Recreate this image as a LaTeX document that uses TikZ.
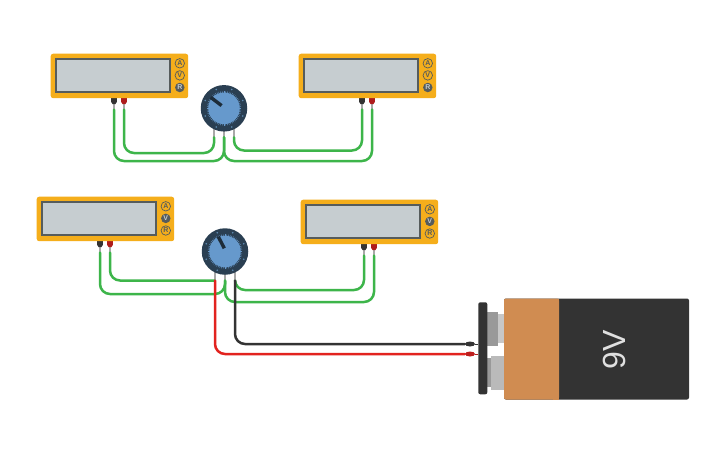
\documentclass[tikz,border=0pt]{standalone}
\usepackage{fontspec}
\setmainfont{Liberation Sans}
\usetikzlibrary{shapes.geometric}
\definecolor{morange}{HTML}{F5AE1B}
\definecolor{mscreen}{HTML}{C6CDD0}
\definecolor{mborder}{HTML}{565C5C}
\definecolor{potdark}{HTML}{2A3F52}
\definecolor{potblue}{HTML}{6699CC}
\definecolor{potdot}{HTML}{5F8DB5}
\definecolor{wgreen}{HTML}{3DB54A}
\definecolor{wred}{HTML}{E2231F}
\definecolor{wblack}{HTML}{333333}
\definecolor{pin}{HTML}{A8A8A8}
\definecolor{tipred}{HTML}{AE1C1C}
\definecolor{batorange}{HTML}{D08C51}
\definecolor{batdark}{HTML}{333333}
\tikzset{
  wire/.style={line width=2.5pt,rounded corners=10pt,line cap=round},
  gw/.style={wire,draw=wgreen},
  rw/.style={wire,draw=wred},
  kw/.style={wire,draw=wblack},
  lead/.style={line width=2.5pt,draw=pin},
  btnbase/.style={circle,inner sep=0pt,minimum size=9.5pt,font=\fontsize{7}{7}\selectfont\bfseries},
  btnon/.style={btnbase,fill=mborder,text=mscreen},
  btnoff/.style={btnbase,draw=mborder,line width=0.7pt,text=mborder},
  mbody/.style={fill=morange,rounded corners=2.5pt,inner sep=0pt,minimum width=137.5pt,minimum height=44.5pt,anchor=north west},
  mscr/.style={fill=mscreen,draw=mborder,line width=1.5pt,inner sep=0pt,minimum width=114pt,minimum height=33pt,anchor=north west},
  pics/meter/.style n args={3}{code={
    \draw[lead] (63.5,50) -- (63.5,56);
    \draw[lead] (73.5,50) -- (73.5,56);
    \fill[wblack] (60.7,44) -- (66.3,44) -- (66.3,48.5) -- (65,50.5) -- (62,50.5) -- (60.7,48.5) -- cycle;
    \fill[tipred] (70.7,44) -- (76.3,44) -- (76.3,48.5) -- (75,50.5) -- (72,50.5) -- (70.7,48.5) -- cycle;
    \node[mbody] (-body) at (0,0) {};
    \node[mscr] (-screen) at (4.6,4.8) {};
    \node[#1] (-a) at (129.3,9.8) {A};
    \node[#2] (-v) at (129.3,21.9) {V};
    \node[#3] (-r) at (129.3,34) {R};
    \coordinate (-black) at (63.5,56);
    \coordinate (-red) at (73.5,56);
  }},
  pics/pot/.style n args={2}{code={
    \draw[lead] (-10,15) -- (-10,29);
    \draw[lead] (0,15) -- (0,29);
    \draw[lead] (10,15) -- (10,29);
    \node[circle,fill=potdark,inner sep=0pt,minimum size=46.5pt] (-body) at (0,0) {};
    \foreach \a in {0,6,...,354}{\draw[potblue,line width=0.4pt] (\a:15.5) -- (\a:17.3);}
    \foreach \a in {0,45,...,315}{\fill[potdot] (\a+22.5:20.3) circle (0.9pt);}
    \fill[potblue] (0,0) circle (15.8pt);
    \draw[potdark!70!black,line width=3.4pt] (#1) -- (#2);
    \coordinate (-l) at (-10,29);
    \coordinate (-m) at (0,29);
    \coordinate (-rr) at (10,29);
  }}
}
\begin{document}
\begin{tikzpicture}[x=1pt,y=-1pt]
\useasboundingbox[fill=white] (0,0) rectangle (725,453);

% battery
\fill[batdark,rounded corners=2pt] (504,298.5) rectangle (689,399.5);
\fill[batorange,rounded corners=2pt] (559,298.5) -- (504,298.5) -- (504,399.5) -- (559,399.5) -- cycle;
\fill[batorange] (553,298.5) rectangle (559,399.5);
\fill[black!40] (487,311.5) rectangle (498,346);
\fill[black!22] (498,314) rectangle (504,343);
\fill[black!40] (487,358) rectangle (491,387);
\fill[black!27] (491,355.5) rectangle (504,389.5);
\node[fill=batdark,rounded corners=2pt,inner sep=0pt,minimum width=9pt,minimum height=92pt] (plate) at (482.8,348.3) {};
\node[rotate=90,text=white!88!black,font=\fontsize{32}{32}\selectfont,inner sep=0pt] (label) at (614,349.5) {9V};
\node[ellipse,fill=wblack,inner sep=0pt,minimum width=10pt,minimum height=5pt] (tb) at (470,344) {};
\node[ellipse,fill=tipred!70!wred,inner sep=0pt,minimum width=10pt,minimum height=5pt] (tr) at (470,354) {};
\draw[wblack,line width=1pt] (tb) -- (plate.west |- tb);
\draw[tipred,line width=1pt] (tr) -- (plate.west |- tr);

% meters
\pic (M1) at (50.5,53.5) {meter={btnoff}{btnoff}{btnon}};
\pic (M2) at (298.5,53.5) {meter={btnoff}{btnoff}{btnon}};
\pic (M3) at (36.5,196.5) {meter={btnoff}{btnon}{btnoff}};
\pic (M4) at (300.5,199.5) {meter={btnoff}{btnon}{btnoff}};

% potentiometers
\pic (P1) at (224,108.3) {pot={-2.4,-2.7}{-13.3,-11}};
\pic (P2) at (225,251.5) {pot={-0.7,-3.2}{-6.7,-14.8}};

% upper circuit
\draw[gw] (P1-l) -- ++(0,15.7) -| (M1-red);
\draw[gw] (P1-m) -- ++(0,23.7) -| (M1-black);
\draw[gw] (P1-rr) -- ++(0,13.2) -| (M2-black);
\draw[gw] (P1-m) -- ++(0,23.7) -| (M2-red);

% lower circuit
\draw[gw] (M3-red) |- (P2-l);
\draw[gw] (P2-m) -- ++(0,13.5) -| (M3-black);
\draw[gw] (P2-rr) -- ++(0,9.5) -| (M4-black);
\draw[gw] (P2-m) -- ++(0,21.5) -| (M4-red);
\draw[kw] (P2-rr) |- (tb);
\draw[rw] (P2-l) |- (tr);
\end{tikzpicture}
\end{document}
